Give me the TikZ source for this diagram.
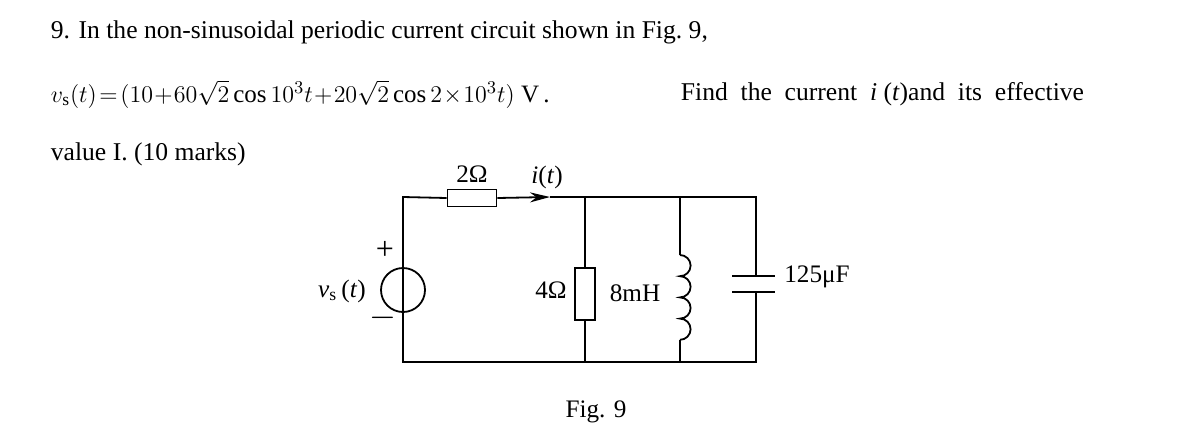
\documentclass[tikz,border=0pt]{standalone}
\usepackage{fontspec}
\setmainfont{Liberation Serif}
\usetikzlibrary{arrows.meta}
\begin{document}
\begin{tikzpicture}[x=0.5pt,y=-0.5pt,line width=0.9pt,
  res/.style={draw,fill=white,rectangle,inner sep=0pt},
  txt/.style={anchor=base west,inner sep=0pt,font=\fontsize{12.8}{15}\selectfont},
  lbl/.style={inner sep=0pt,font=\fontsize{12.6}{15}\selectfont}]
  \useasboundingbox (0,0) rectangle (1177,440);
  % question text
  \node[txt] (q1) at (50,38) {9. In the non-sinusoidal periodic current circuit shown in Fig.~9,};
  \node[txt,font=\fontsize{12.5}{15}\selectfont] (q2) at (50,102)
    {$v_{\mathrm{s}}(t)\!=\!(10\!+\!60\sqrt{2}\cos10^3t\!+\!20\sqrt{2}\cos2\!\times\!10^3t)$ V\,.};
  \node[txt] (q3) at (680,100) {Find\ \ the\ \ current\ \ \textit{i}\ (\textit{t})and\ \ its\ \ effective};
  \node[txt] (q4) at (50,160) {value I. (10 marks)};

  % corners
  \coordinate (tl) at (403,197);
  \coordinate (bl) at (403,362);
  \coordinate (tm) at (585,197);
  \coordinate (bm) at (585,362);
  \coordinate (tL) at (680,197);
  \coordinate (bL) at (680,362);
  \coordinate (tr) at (756,197);
  \coordinate (br) at (756,362);
  \coordinate (Lt) at (680,255);
  \coordinate (Lb) at (680,340);
  \coordinate (c1) at (756,276);
  \coordinate (c2) at (756,292);

  % elements
  \node[draw,circle,minimum size=22pt,inner sep=0pt] (src) at (403,290) {};
  \node[res,minimum width=24.5pt,minimum height=8.5pt] (R2) at (472,198) {};
  \node[res,minimum width=10pt,minimum height=26pt] (R4) at (585,294) {};

  % wires
  \draw (R2.west) -- (tl) -- (bl) -- (br) -- (c2);
  \draw[-{Stealth[length=10pt,width=5pt]}] (R2.east) -- (550,197);
  \draw (550,197) -- (tr) -- (c1);
  \draw (tm) -- (R4.north);
  \draw (R4.south) -- (bm);
  \draw (tL) -- (Lt);
  \draw (Lb) -- (bL);
  \draw (Lt) \foreach \k in {1,...,4} {arc[start angle=90,end angle=-90,radius=5.3pt]};
  \draw (732,276) -- (775,276);
  \draw (732,292) -- (775,292);

  % labels
  \node[lbl] (l2) at (472,174) {2Ω};
  \node[lbl] (li) at (547,177) {\textit{i}(\textit{t})};
  \node[lbl] (lv) at (342,291) {\textit{v}\textsubscript{s}\,(\textit{t})};
  \node[lbl,font=\fontsize{16}{18}\selectfont] (lp) at (385,250) {+};
  \node[lbl,font=\fontsize{16}{18}\selectfont] (lm) at (383,318) {$-$};
  \node[lbl] (l4) at (551,290) {4Ω};
  \node[lbl] (lL) at (635,293) {8mH};
  \node[lbl] (lC) at (817,277) {125μF};
  \node[lbl] (fig) at (596,412) {Fig. 9};
\end{tikzpicture}
\end{document}
